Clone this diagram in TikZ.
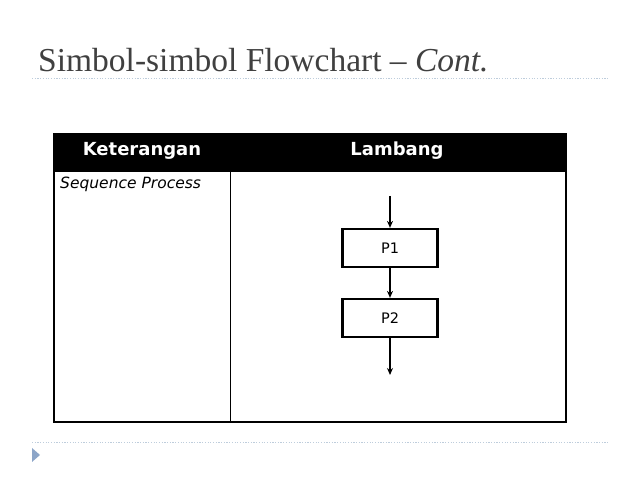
\documentclass[tikz,border=0pt]{standalone}
\usepackage{fontspec}
\setmainfont{Liberation Serif}
\newfontfamily\verd{DejaVu Sans}
\usetikzlibrary{arrows.meta}
\definecolor{dotc}{RGB}{190,205,220}
\definecolor{tri}{RGB}{140,165,200}
\tikzset{pbox/.style={draw,line width=2.2pt,minimum width=95pt,minimum height=38pt,inner sep=0pt,font=\verd\fontsize{14.5}{17}\selectfont},
flow/.style={-{Stealth[length=7pt,width=6pt]},line width=1.3pt},
hdr/.style={text=white,font=\verd\bfseries\fontsize{18}{21}\selectfont}}
\begin{document}
\begin{tikzpicture}[x=1pt,y=-1pt]
\useasboundingbox (0,0) rectangle (638,478);
\node[anchor=base west,inner sep=0pt,text=black!75,font=\fontsize{33.5}{38}\selectfont] (title) at (38,72) {Simbol-simbol Flowchart -- \textit{Cont.}};
\draw[dotc,line width=1pt,dash pattern=on 1.2pt off 1.5pt] (32,79) -- (608,79);
\draw[dotc,line width=1pt,dash pattern=on 1.2pt off 1.5pt] (32,443) -- (608,443);
\fill[tri] (32,448) -- (40,455) -- (32,462) -- cycle;
\fill[black] (54,134) rectangle (566,172);
\draw[line width=0.8pt] (230,172) -- (230,422);
\draw[line width=2pt] (54,134) rectangle (566,422);
\node[hdr] (h1) at (142,151) {Keterangan};
\node[hdr] (h2) at (397,151) {Lambang};
\node[anchor=north west,inner sep=0pt,font=\verd\itshape\fontsize{15.5}{18}\selectfont] (seq) at (60,177) {Sequence Process};
\coordinate (s) at (390,196);
\node[pbox] (p1) at (390,248) {P1};
\node[pbox] (p2) at (390,318) {P2};
\coordinate (e) at (390,375);
\draw[flow] (s) -- (p1.north);
\draw[flow] (p1.south) -- (p2.north);
\draw[flow] (p2.south) -- (e);
\end{tikzpicture}
\end{document}
